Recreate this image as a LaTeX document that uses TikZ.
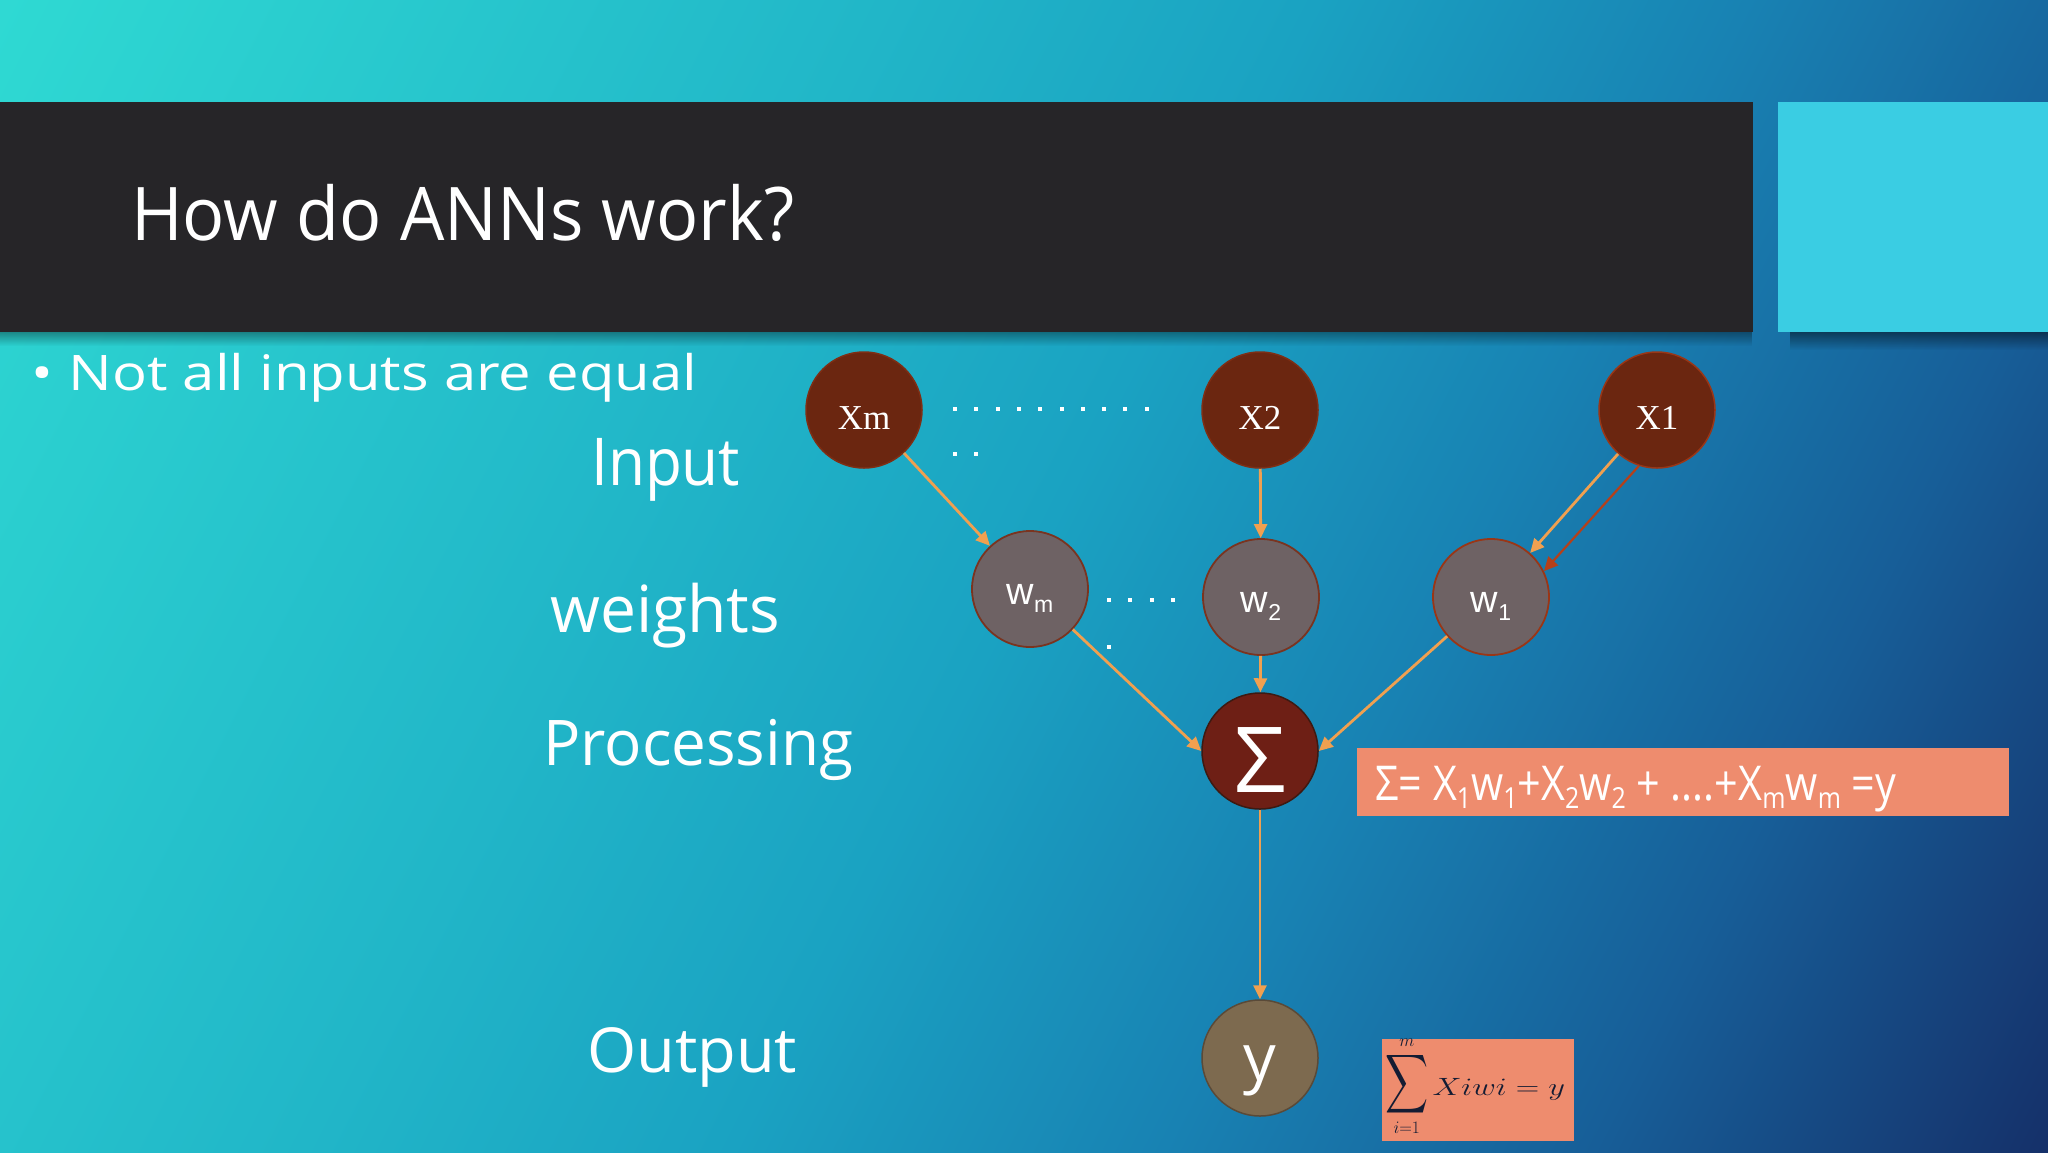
\documentclass[tikz,border=0pt]{standalone}
\usepackage{fix-cm}
\usepackage{exscale}
\usepackage[no-math]{fontspec}
\setmainfont{Open Sans}
\newfontfamily\serifx{Liberation Serif}
\newfontfamily\arialf{Liberation Sans}
\usepackage{graphicx}
\usetikzlibrary{arrows.meta,fadings}

\definecolor{bgA}{HTML}{2FDAD3}
\definecolor{bgB}{HTML}{21B6C8}
\definecolor{bgC}{HTML}{1AA2C2}
\definecolor{bgD}{HTML}{1882B3}
\definecolor{bgE}{HTML}{175E98}
\definecolor{bgF}{HTML}{152F68}
\definecolor{barc}{HTML}{262528}
\definecolor{cyanbox}{HTML}{3ACDE3}
\definecolor{xfill}{HTML}{6B2610}
\definecolor{xdraw}{HTML}{7E2E14}
\definecolor{wfill}{HTML}{6E6264}
\definecolor{wdraw}{HTML}{7A3420}
\definecolor{sfill}{HTML}{6E1F15}
\definecolor{sdraw}{HTML}{3D1A12}
\definecolor{yfill}{HTML}{7D6A4F}
\definecolor{ydraw}{HTML}{5A4A38}
\definecolor{arrowc}{HTML}{F0A050}
\definecolor{redarrow}{HTML}{B5401A}
\definecolor{salmon}{HTML}{EE8C6E}
\definecolor{mathc}{HTML}{141C33}

\pgfdeclarehorizontalshading{bgshade}{100bp}{color(0bp)=(bgA); color(16bp)=(bgA); color(39bp)=(bgB); color(50bp)=(bgC); color(61bp)=(bgD); color(72bp)=(bgE); color(84bp)=(bgF); color(100bp)=(bgF)}

\newcommand\subx[1]{\raisebox{-8pt}{\fontsize{29}{30}\selectfont #1}}
\newcommand\subw[1]{\raisebox{-8pt}{\fontsize{23}{24}\selectfont #1}}

\tikzset{
  xnode/.style={circle, minimum size=116pt, inner sep=0pt, fill=xfill, draw=xdraw, line width=1.5pt,
    text=white, font=\serifx\fontsize{35}{40}\selectfont, text height=38pt, text depth=0pt},
  wnode/.style={circle, minimum size=116pt, inner sep=0pt, fill=wfill, draw=wdraw, line width=1.8pt,
    text=white, font=\arialf\fontsize{38}{40}\selectfont, text height=30pt, text depth=0pt},
  snode/.style={circle, minimum size=116pt, inner sep=0pt, fill=sfill, draw=sdraw, line width=1.5pt,
    text=white, font=\fontsize{91}{95}\selectfont, text height=82pt, text depth=0pt},
  ynode/.style={circle, minimum size=116pt, inner sep=0pt, fill=yfill, draw=ydraw, line width=1.5pt,
    text=white, font=\fontsize{65}{70}\selectfont, text height=44pt, text depth=0pt},
  conn/.style={draw=arrowc, line width=2.8pt, -{Triangle[length=14pt,width=13pt]}},
  lbl/.style={anchor=base west, inner sep=0pt, text=white},
  dotsq/.style={fill=white},
}

\begin{document}
\begin{tikzpicture}[x=1pt,y=-1pt]
\useasboundingbox (0,0) rectangle (2048,1152);
\shade[shading=bgshade, shading angle=-27] (0,0) rectangle (2048,1152);

% title bar and cyan box with soft shadows
\fill[black, opacity=0.35, path fading=south] (0,332) rectangle (1753,346);
\fill[black, opacity=0.45, path fading=south] (1790,332) rectangle (2048,350);
\fill[barc] (0,102) rectangle (1753,332);
\fill[cyanbox] (1778,102) rectangle (2048,332);

\node[lbl] (title) at (131,240) {\resizebox{663pt}{\height}{\fontsize{74}{80}\selectfont How do ANNs work?}};
\node[lbl] (bullet) at (31,390) {\resizebox{666pt}{\height}{\fontsize{49}{55}\selectfont •\hspace{13pt}Not all inputs are equal}};

% left labels
\node[lbl] (linput) at (591,485) {\resizebox{149pt}{\height}{\fontsize{66}{70}\selectfont Input}};
\node[lbl] (lweights) at (550,632) {\resizebox{230pt}{\height}{\fontsize{65}{70}\selectfont weights}};
\node[lbl] (lproc) at (543,765) {\resizebox{310pt}{\height}{\fontsize{63}{70}\selectfont Processing}};
\node[lbl] (lout) at (587,1072) {\resizebox{210pt}{\height}{\fontsize{62}{70}\selectfont Output}};

% nodes
\node[xnode] (xm) at (864,410) {Xm};
\node[xnode] (x2) at (1260,410) {X2};
\node[xnode, draw=redarrow!85!black] (x1) at (1657,410) {X1};
\node[wnode] (wm) at (1030,589) {w\subw{m}};
\node[wnode] (w2) at (1261,597) {w\subw{2}};
\node[wnode, draw=redarrow!85!black] (w1) at (1491,597) {w\subw{1}};
\node[snode] (sig) at (1260,751) {Σ};
\node[ynode] (yout) at (1260,1058) {y};

% dotted placeholders
\foreach \i in {0,...,9} \fill[dotsq] ({955+21.3*\i-2},407) rectangle ++(4,4);
\foreach \i in {0,1} \fill[dotsq] ({955+21.3*\i-2},452) rectangle ++(4,4);
\foreach \i in {0,...,3} \fill[dotsq] ({1109+21.3*\i-2},598) rectangle ++(4,4);
\fill[dotsq] (1107,645) rectangle ++(4,4);

% connectors
\draw[conn] (xm) -- (wm);
\draw[conn] (x2) -- (w2);
\draw[conn] (x1) -- (w1);
\draw[conn, draw=redarrow, line width=2.2pt] (x1.-108) -- (w1.26);
\draw[conn] (wm) -- (sig.west);
\draw[conn] (w2) -- (sig);
\draw[conn] (w1) -- (sig.east);
\draw[conn] (sig) -- (yout);

% formula boxes
\node[anchor=north west, fill=salmon, minimum width=652pt, minimum height=68pt, inner xsep=18pt, inner ysep=0pt,
  text=white, text height=36pt, text depth=0pt] (fbox) at (1357,748)
  {\makebox[616pt][l]{\resizebox{521pt}{\height}{\fontsize{48}{50}\selectfont Σ= X\subx{1}w\subx{1}+X\subx{2}w\subx{2} + ....+X\subx{m}w\subx{m} =y}}};

\node[anchor=north west, fill=salmon, minimum width=192pt, minimum height=102pt, inner sep=0pt] (sbox) at (1382,1039) {};
\node[anchor=base west, inner sep=0pt, text=mathc] (smath) at (1385,1095)
  {\fontsize{25}{30}\selectfont $\mathop{\scalebox{1.2}[1.65]{$\displaystyle\sum$}}\limits_{i=1}^{m}\scalebox{1.3}[1]{$Xiwi = y$}$};
\end{tikzpicture}
\end{document}
